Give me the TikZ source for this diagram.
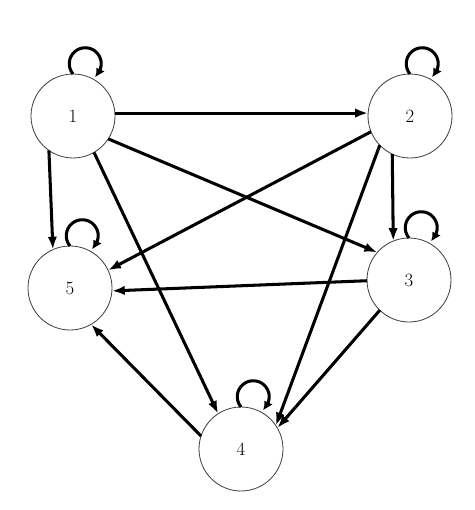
\documentclass[tikz,border=0pt]{standalone}
\usetikzlibrary{arrows.meta,bending}
\begin{document}
\begin{tikzpicture}[x=0.03cm,y=0.03cm,
        state/.style={circle,draw=black!75,line width=0.7pt,minimum size=2.52cm,inner sep=0pt,outer sep=0pt,font=\fontsize{16}{18}\selectfont},
        edge/.style={line width=2.6pt,-{Latex[length=11pt,width=8pt]}},
        selfedge/.style={line width=2.6pt,-{Latex[length=8pt,width=8pt,bend]}}]
            \useasboundingbox (0,0) rectangle (474,-510);
            \node[state] (n1) at (73,-116) {1};
            \node[state] (n2) at (410,-116) {2};
            \node[state] (n3) at (409,-280) {3};
            \node[state] (n4) at (241,-449) {4};
            \node[state] (n5) at (70,-288) {5};
            \draw[edge] (n1.4) -- (n2.176);
            \draw[edge] (n1.327) -- (n3.139);
            \draw[edge] (n1.300) -- (n4.123);
            \draw[edge] (n1.235) -- (n5.114);
            \draw[edge] (n2.202) -- (n5.25);
            \draw[edge] (n2.224) -- (n4.34);
            \draw[edge] (n2.245) -- (n3.112);
            \draw[edge] (n3.181) -- (n5.356);
            \draw[edge] (n3.226) -- (n4.30);
            \draw[edge] (n4.162) -- (n5.300);
            \foreach \n in {1,...,5}
                \draw[selfedge] (n\n.90) arc[start angle=220,end angle=-55,radius=0.48cm];
        \end{tikzpicture}
\end{document}
